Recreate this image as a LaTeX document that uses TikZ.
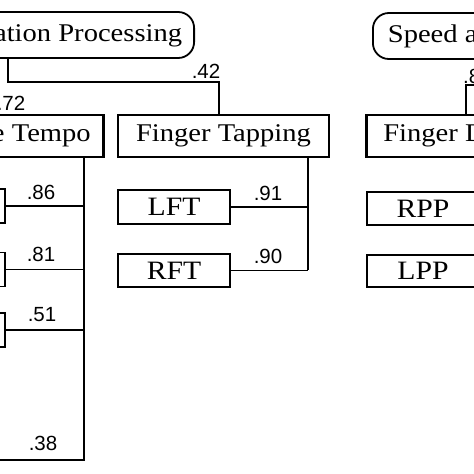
\documentclass[tikz,border=0pt]{standalone}
\usepackage{fontspec}
\newfontfamily\boxfont[FakeStretch=1.12]{Liberation Serif}
\newfontfamily\numfont{Liberation Sans}
\begin{document}
\begin{tikzpicture}[x=1pt,y=-1pt,
  factor/.style={draw,line width=2.6pt,rectangle,minimum height=42pt,inner sep=0pt,
    font=\boxfont\fontsize{25.5}{30}\selectfont},
  latent/.style={draw,line width=1.8pt,rectangle,rounded corners=16pt,minimum height=46pt,
    inner ysep=0pt,font=\boxfont\fontsize{25.5}{30}\selectfont},
  subtest/.style={draw,line width=1.6pt,rectangle,minimum width=112pt,minimum height=34pt,
    inner sep=0pt,font=\boxfont\fontsize{26.5}{30}\selectfont},
  coef/.style={font=\numfont\fontsize{20.5}{24}\selectfont,inner sep=0pt},
  conn/.style={line width=1.4pt}]
\useasboundingbox (0,0) rectangle (474,474);
\clip (0,0) rectangle (474,474);
% latent factors
\node[latent,anchor=east,inner xsep=12pt] (proc) at (195,35) {Information Processing};
\node[latent,anchor=west,inner xsep=15pt] (speed) at (372,36) {Speed and Accuracy};
% first-order factors
\node[factor,anchor=east,inner xsep=13pt] (tempo) at (105,136) {Free Tempo};
\node[factor,minimum width=211pt] (ft) at (223.5,136) {Finger Tapping};
\node[factor,anchor=west,inner xsep=17pt] (fd) at (365,136) {Finger Dexterity};
% subtests
\node[subtest,minimum width=105pt] (s1) at (-47.5,206) {};
\node[subtest,minimum width=105pt] (s2) at (-47.5,269.5) {};
\node[subtest,minimum width=105pt] (s3) at (-47.5,330) {};
\node[subtest] (lft) at (174,207) {LFT};
\node[subtest,minimum height=33pt] (rft) at (174,270.5) {RFT};
\node[subtest,minimum height=33pt] (rpp) at (423,208.5) {RPP};
\node[subtest,minimum height=32pt] (lpp) at (423,271) {LPP};
% junction coordinates
\coordinate (pj) at (8,82);
\coordinate (ftin) at (219,115);
\coordinate (tv) at (84,460);
\coordinate (bl) at (-20,460);
\coordinate (fv) at (308,270);
\coordinate (sj) at (466,85);
\coordinate (sr) at (500,85);
% connectors
\draw[conn] (pj |- proc.south) -- (pj) -| (ftin);
\draw[conn] (tv |- tempo.south) -- (tv) -- (bl);
\draw[conn] (s1.east) -- (s1.east -| tv);
\draw[conn] (s2.east) -- (s2.east -| tv);
\draw[conn] (s3.east) -- (s3.east -| tv);
\draw[conn] (fv |- ft.south) -- (fv);
\draw[conn] (lft.east) -- (lft.east -| fv);
\draw[conn] (rft.east) -- (rft.east -| fv);
\draw[conn] (sr) -- (sj) -- (sj |- fd.north);
% coefficients
\node[coef] (c42) at (206,71) {.42};
\node[coef] (c72) at (11,103) {.72};
\node[coef,anchor=west] (c87) at (463,76) {.87};
\node[coef] (c86) at (41,192) {.86};
\node[coef] (c81) at (41,254) {.81};
\node[coef] (c51) at (42,315) {.51};
\node[coef] (c38) at (43,443) {.38};
\node[coef] (c91) at (268,193) {.91};
\node[coef] (c90) at (268,256) {.90};
\end{tikzpicture}
\end{document}
